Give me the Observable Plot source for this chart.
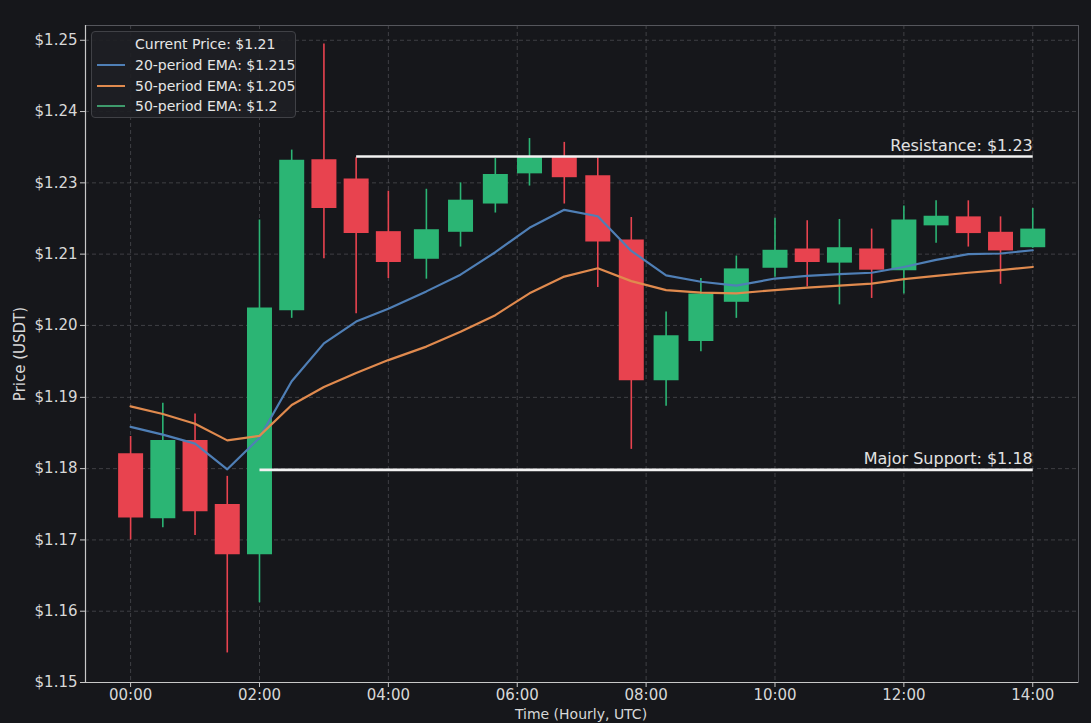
<!DOCTYPE html>
<html>
<head>
<meta charset="utf-8">
<script src="https://cdn.jsdelivr.net/npm/d3@7"></script>
<script src="https://cdn.jsdelivr.net/npm/@observablehq/plot@0.6"></script>
<style>
  html, body { margin: 0; padding: 0; background: #16171b; }
  #wrap { position: relative; width: 1091px; height: 723px; overflow: hidden; background: #16171b; font-family: "DejaVu Sans", sans-serif; }
  #chart svg { display: block; }
  .axtitle { position: absolute; color: #d8d8d8; font-size: 15px; line-height: 16px; white-space: nowrap; }
  #legend { position: absolute; left: 91px; top: 31px; width: 205px; height: 87px; box-sizing: border-box;
            background: rgba(30,31,36,0.92); border: 1px solid #404146; border-radius: 4px; }
  .lrow { position: absolute; left: 0; height: 20px; width: 205px; }
  .lline { position: absolute; left: 5px; top: 9px; width: 28px; height: 2px; }
  .ltext { position: absolute; left: 43px; top: 0; font-size: 14px; line-height: 20px; color: #e6e6e6; white-space: nowrap; }
</style>
</head>
<body>
<div id="wrap">
  <div id="chart"></div>
  <div class="axtitle" style="left:20px; top:354px; transform: translate(-50%,-50%) rotate(-90deg);">Price (USDT)</div>
  <div class="axtitle" style="left:581px; top:714px; font-size:14px; line-height:15px; transform: translate(-50%,-50%);">Time (Hourly, UTC)</div>
  <div id="legend"></div>
</div>
<script>
// ---- data ----
const times  = [0, 0.5, 1, 1.5, 2, 2.5, 3, 3.5, 4, 4.59, 5.12, 5.66, 6.19, 6.73, 7.25, 7.77, 8.31, 8.85, 9.4, 10, 10.5, 11, 11.5, 12, 12.5, 13, 13.5, 14];
const opens  = [1.1856, 1.1755, 1.1877, 1.1777, 1.1699, 1.2079, 1.2314, 1.2284, 1.2202, 1.2159, 1.2201, 1.2245, 1.2292, 1.2318, 1.2289, 1.2189, 1.1970, 1.2031, 1.2092, 1.2145, 1.2175, 1.2153, 1.2175, 1.2141, 1.2211, 1.2225, 1.2201, 1.2177];
const highs  = [1.1883, 1.1935, 1.1918, 1.1821, 1.2220, 1.2329, 1.2494, 1.2317, 1.2265, 1.2268, 1.2278, 1.2316, 1.2347, 1.2341, 1.2317, 1.2224, 1.2077, 1.2129, 1.2164, 1.2223, 1.2219, 1.2221, 1.2206, 1.2242, 1.2250, 1.2250, 1.2225, 1.2238];
const lows   = [1.1722, 1.1741, 1.1729, 1.1546, 1.1624, 1.2067, 1.2160, 1.2074, 1.2129, 1.2128, 1.2178, 1.2231, 1.2273, 1.2245, 1.2115, 1.1863, 1.1930, 1.2015, 1.2067, 1.2131, 1.2116, 1.2088, 1.2098, 1.2105, 1.2184, 1.2178, 1.2120, 1.2176];
const closes = [1.1756, 1.1877, 1.1766, 1.1699, 1.2083, 1.2313, 1.2238, 1.2199, 1.2154, 1.2205, 1.2251, 1.2291, 1.2318, 1.2286, 1.2186, 1.1970, 1.2040, 1.2105, 1.2144, 1.2173, 1.2154, 1.2177, 1.2142, 1.2220, 1.2226, 1.2199, 1.2172, 1.2206];
const ema20  = [1.1898, 1.1886, 1.1872, 1.1832, 1.1881, 1.1969, 1.2028, 1.2062, 1.2082, 1.2109, 1.2135, 1.2170, 1.2208, 1.2236, 1.2226, 1.2172, 1.2134, 1.2124, 1.2118, 1.2129, 1.2133, 1.2136, 1.2138, 1.2147, 1.2158, 1.2167, 1.2168, 1.2173];
const ema50  = [1.1930, 1.1918, 1.1903, 1.1877, 1.1884, 1.1932, 1.1960, 1.1982, 1.2002, 1.2023, 1.2046, 1.2072, 1.2106, 1.2132, 1.2145, 1.2125, 1.2111, 1.2107, 1.2106, 1.2111, 1.2115, 1.2118, 1.2121, 1.2128, 1.2133, 1.2138, 1.2142, 1.2147];

const levelNames  = ["Resistance: $1.23", "Major Support: $1.18"];
const levelValues = [1.2319, 1.1831];
const levelStarts = [3.5, 2];
const levelEnds   = [14, 14];

const xTickValues = [0, 2, 4, 6, 8, 10, 12, 14];
const xTickLabels = ["00:00", "02:00", "04:00", "06:00", "08:00", "10:00", "12:00", "14:00"];
const yTickValues = [1.15, 1.1611, 1.1722, 1.1833, 1.1944, 1.2056, 1.2167, 1.2278, 1.2389, 1.25];
const yTickLabels = ["$1.15", "$1.16", "$1.17", "$1.18", "$1.19", "$1.20", "$1.21", "$1.23", "$1.24", "$1.25"];

const legendLabels = ["Current Price: $1.21", "20-period EMA: $1.215", "50-period EMA: $1.205", "50-period EMA: $1.2"];
const legendColors = [null, "#4f7fb6", "#e08a4e", "#3e9a6c"];

// ---- tables ----
const candles = times.map((t, i) => ({t, open: opens[i], high: highs[i], low: lows[i], close: closes[i], up: closes[i] >= opens[i]}));
const emaRows = times.map((t, i) => ({t, e20: ema20[i], e50: ema50[i]}));
const levels = levelNames.map((name, i) => ({name, v: levelValues[i], x1: levelStarts[i], x2: levelEnds[i]}));

const RED = "#e8434f", GREEN = "#2bb574";
const xDomain = [-0.70, 14.71];
const yDomain = [1.15, 1.2523];

const chart = Plot.plot({
  width: 1091,
  height: 723,
  marginLeft: 85,
  marginRight: 13,
  marginTop: 25,
  marginBottom: 41,
  style: {background: "#16171b", color: "#d8d8d8", fontFamily: "DejaVu Sans, sans-serif"},
  x: {domain: xDomain, axis: null},
  y: {domain: yDomain, axis: null},
  marks: [
    Plot.gridX(xTickValues, {stroke: "#8a8a90", strokeOpacity: 0.45, strokeDasharray: "4,3", strokeWidth: 0.8}),
    Plot.gridY(yTickValues, {stroke: "#8a8a90", strokeOpacity: 0.45, strokeDasharray: "4,3", strokeWidth: 0.8}),
    Plot.frame({stroke: "#55565c", strokeWidth: 1}),
    Plot.ruleX([xDomain[0]], {stroke: "#c8c8c8", strokeWidth: 1.2}),
    Plot.ruleY([yDomain[0]], {stroke: "#c8c8c8", strokeWidth: 1.2}),
    Plot.axisX(xTickValues, {tickFormat: (d) => xTickLabels[xTickValues.indexOf(d)], tickSize: 5, tickPadding: 2, fontSize: 15, stroke: "#c8c8c8", fill: "#d8d8d8", label: null}),
    Plot.axisY(yTickValues, {tickFormat: (d) => yTickLabels[yTickValues.indexOf(d)], tickSize: 5, tickPadding: 3, fontSize: 15, stroke: "#c8c8c8", fill: "#d8d8d8", label: null}),
    // wicks
    Plot.ruleX(candles, {x: "t", y1: "low", y2: "high", stroke: (d) => d.up ? GREEN : RED, strokeWidth: 1.6}),
    // bodies
    Plot.ruleX(candles, {x: "t", y1: "open", y2: "close", stroke: (d) => d.up ? GREEN : RED, strokeWidth: 25, strokeLinecap: "butt"}),
    // EMA lines
    Plot.line(emaRows, {x: "t", y: "e20", stroke: legendColors[1], strokeWidth: 2.2}),
    Plot.line(emaRows, {x: "t", y: "e50", stroke: legendColors[2], strokeWidth: 2.2}),
    // support / resistance
    Plot.link(levels, {x1: "x1", x2: "x2", y1: "v", y2: "v", stroke: "#f2f2f2", strokeWidth: 2.6}),
    Plot.text(levels, {x: "x2", y: "v", text: "name", textAnchor: "end", dy: -11, fontSize: 16, fill: "#e2e2e2"})
  ]
});
document.getElementById("chart").appendChild(chart);

// legend
const legend = document.getElementById("legend");
legendLabels.forEach((lab, i) => {
  const row = document.createElement("div");
  row.className = "lrow";
  row.style.top = (2 + i * 20.8) + "px";
  if (legendColors[i]) {
    const ln = document.createElement("div");
    ln.className = "lline";
    ln.style.background = legendColors[i];
    row.appendChild(ln);
  }
  const tx = document.createElement("div");
  tx.className = "ltext";
  tx.textContent = lab;
  row.appendChild(tx);
  legend.appendChild(row);
});
</script>
</body>
</html>
